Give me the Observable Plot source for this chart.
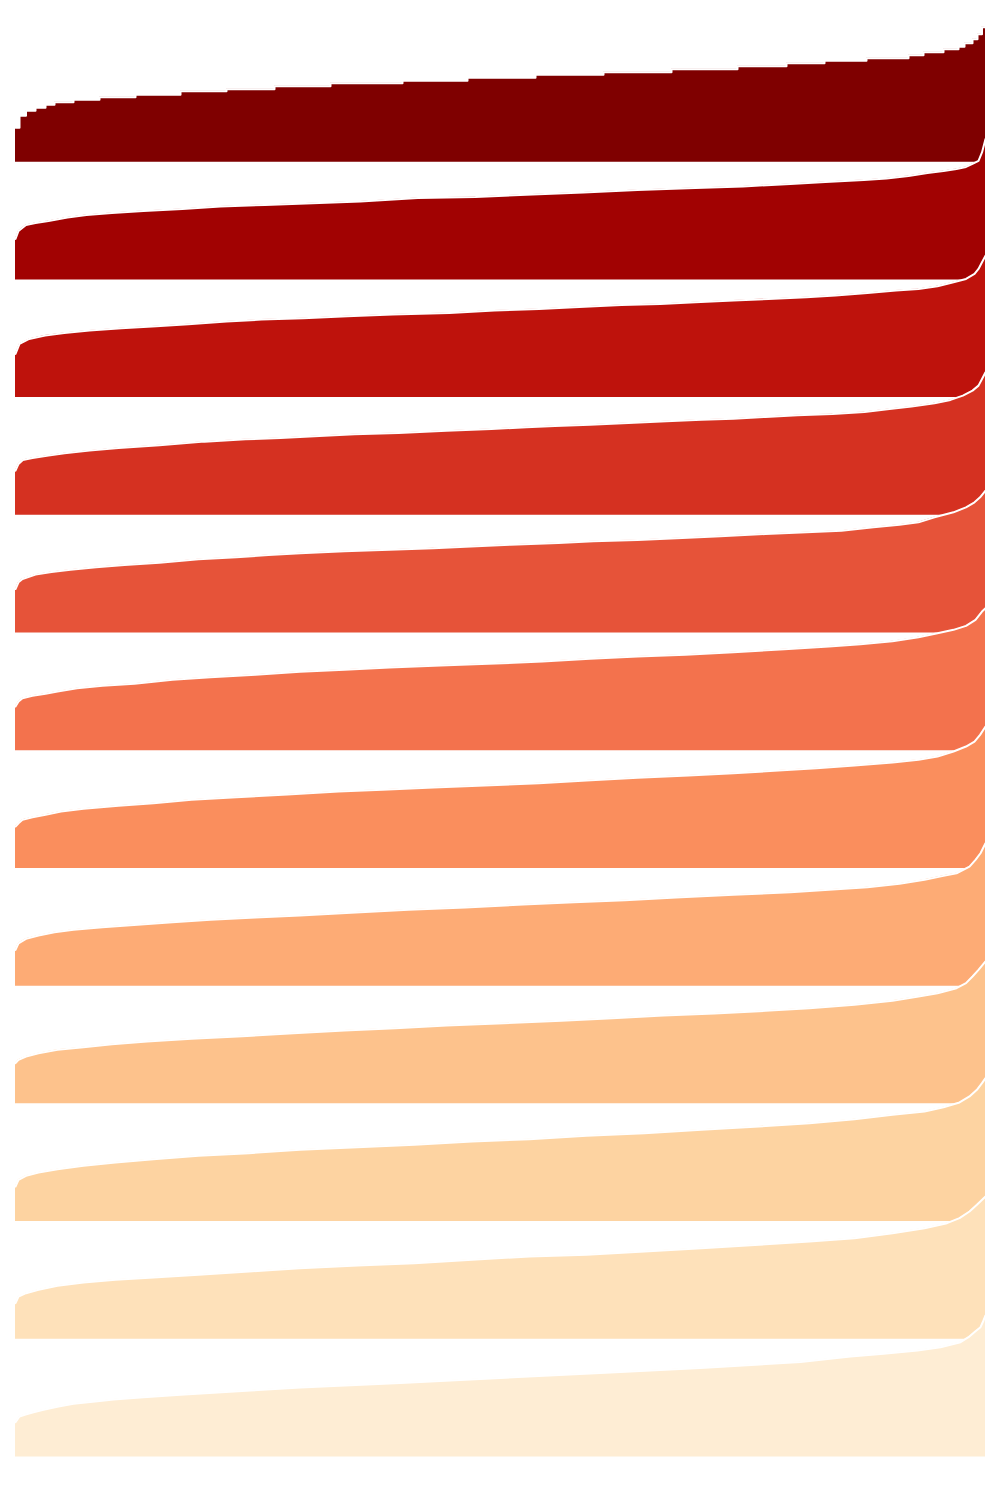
<!DOCTYPE html>
<html>
<head>
<meta charset="utf-8">
<script src="https://cdn.jsdelivr.net/npm/d3@7"></script>
<script src="https://cdn.jsdelivr.net/npm/@observablehq/plot@0.6"></script>
<style>
  html, body { margin: 0; padding: 0; background: #ffffff; }
  #chart svg { display: block; }
</style>
</head>
<body>
<div id="chart"></div>
<script>
// Twelve groups, each a sorted series (rank -> value), top group first.
const bandKeys = [1, 2, 3, 4, 5, 6, 7, 8, 9, 10, 11, 12];

const band01Rank  = [0,4,10.5,20,30,39,58,84,120,165,211,259,315,387,452,520,588,656,722,771,809,851,893,908,928,943,949,957,962,966.5,970];
const band01Value = [34.5,46.5,51.5,54.5,57.5,60,62.5,65,67.5,71,73,76,79,81.5,84.5,87.5,90,93,96,99,101.5,104,107,110,113,115.5,119,123,128,135,140.5];

const band02Rank  = [0,3,10.5,20,33,52,71,96.5,128,167,205,249.5,304,345,402.5,460,517,568,622,680,727.5,775,810,848.5,871,893,912,928,941,950.5,957,963,966.5,970];
const band02Value = [41,49,55,57,59,62.5,65,67,69,71,73.5,75,77,78.5,82,83,85.5,87.5,90,92,93.5,96,98,100,101.5,104,107,109,111,113,116,119,127.5,141];

const band03Rank  = [0,4,13.7,29.6,48.7,74,106,141,173,211,246,288,332,377,434,479,523.6,558.6,606,645,680,718,753,791,820,852,880.5,903,922,938,950.5,959,963,966.5,970];
const band03Value = [43.7,53.7,58.7,62,64.7,67,69.3,71.3,73.3,76,78,79.3,81.3,83,84.7,87,88.7,90.3,92.7,93.7,95.3,97,98.7,100.3,102,104.7,107,108.7,111.3,115.3,118.7,123.7,128.7,135.3,142];

const band04Rank  = [0,3,7.3,17,33,49,74,103,144,189,230,265,304,339,383,431,476,511,539.5,574.5,613,651,686,718,750,782,817,849,874,896,919,935,947.4,957,963,966.5,970];
const band04Value = [44.7,51.4,55.4,57.4,59.7,62,64.7,67.4,70,73.7,76,77.4,79.4,81,82.4,84.7,86.4,88,89.4,90.7,92.4,94,95.7,96.7,98.4,100,101.4,103.4,106.4,108.7,112,115.4,119.7,124.7,129.7,136.4,143];

const band05Rank  = [0,3,7,20,36,55,80.6,109,144,183,221,253,285,329,374,418,450,495,543,578,622,667,705,750,791,826,858,884,903,919,938,950.5,959,964.6,970];
const band05Value = [44,50.7,54,58.4,61,63.4,65.7,68,70.4,73.7,75.7,78,79.7,81.7,83.4,84.7,86.4,88.4,90,91.7,93,95,96.7,99,100.7,102.4,105.7,108.4,110.7,115.7,120.7,125.7,130.7,135.7,142.4];

const band06Rank  = [0,3,7,17,30,42,61.5,87,119,157,195,240,284.5,329,374,425,473,527,574.5,622,670,718,769,813.5,845,877,903,922,938,950.5,960,966.5,970];
const band06Value = [44.2,49.2,52.5,54.9,56.9,59.2,62.5,64.9,66.9,70.9,73.5,75.9,78.9,80.9,83.2,85.2,86.9,89.2,91.9,94.2,95.9,98.5,101.5,104.2,106.5,109.5,113.5,117.5,120.9,124.9,130.9,139.2,142.5];

const band07Rank  = [0,3,7,17,30,45.5,68,103,138,176,221,272,323,367,418,469,523.6,571,622,673,718,763,801,839,877,903,922,938,950.5,959,964.6,970];
const band07Value = [41.9,45.2,48.6,51.2,53.6,56.9,59.6,62.6,65.2,68.6,71.2,73.9,76.9,78.6,80.9,82.9,85.2,87.9,90.6,92.9,95.2,97.9,100.2,102.9,105.9,108.6,111.9,116.9,121.9,126.9,133.6,141.9];

const band08Rank  = [0,3,10.5,23,39,58,87,122,157,195,240,284.5,335.5,393,450,507.6,558.6,609.6,660.6,718,775,813.5,852,884,909,928,941,954,960,965,970];
const band08Value = [36.3,42.9,47.3,50.6,53.9,56.3,58.9,61.3,63.9,66.3,68.6,70.6,73.3,76.3,78.6,81.6,83.9,85.9,88.6,91.3,93.9,96.3,98.9,102.3,106.3,110.3,112.9,119.6,126.3,132.9,142.9];

const band09Rank  = [0,3,10.5,23,42,68,96.5,131.6,176,227,278,329,380,431,488.5,546,597,648,699,750,794,839,877,903,922,941,950.5,957,963,970];
const band09Value = [40.7,44,47.4,50.7,54,56.7,59.7,62.4,65,67.7,70.7,73.4,75.7,78.4,80.7,83,85.7,88.4,90.4,93,95.7,99,103,107.4,110.7,115.7,120.7,127.4,134,142.4];

const band10Rank  = [0,3,10.5,23,42,68,100,138,183,233.6,284.5,342,399,456.6,514,571,629,686,743.5,794,839,877,909,928,944,954,961.4,966.5,970];
const band10Value = [35.1,41.8,45.8,49.1,52.4,55.8,59.1,62.4,65.8,68.4,71.8,74.4,76.8,80.1,82.4,85.8,88.4,91.8,95.1,98.4,102.4,106.8,110.1,114.4,119.1,125.1,131.8,138.4,143.4];

const band11Rank  = [0,3,10.5,23,42,68,100,138,183,233.6,284.5,342,399,456.6,514,571,629,686,743.5,794,839,877,909,931.5,944,954,961.4,970];
const band11Value = [36.1,42.8,46.1,49.5,53.5,56.8,59.5,61.8,64.5,67.8,71.1,73.8,76.1,79.5,82.8,84.5,87.8,91.1,94.5,97.8,101.1,106.1,111.1,116.1,121.1,127.8,134.5,142.8];

const band12Rank  = [0,4,10,18,28,43,58,82,98,128,165,198,235,285,385,485,585,685,785,835,868,902,925,945,953,960,965,968,970];
const band12Value = [34.8,40.5,42.5,44.8,47.2,50.5,53.2,55.8,57.5,59.8,62.2,64.2,66.5,69.5,74,79,84,89,95,100.5,103.2,106.5,109.8,114.8,119.8,125.8,129.8,136.5,141.5];

const ranks  = [band01Rank, band02Rank, band03Rank, band04Rank, band05Rank, band06Rank,
                band07Rank, band08Rank, band09Rank, band10Rank, band11Rank, band12Rank];
const values = [band01Value, band02Value, band03Value, band04Value, band05Value, band06Value,
                band07Value, band08Value, band09Value, band10Value, band11Value, band12Value];

const rows = bandKeys.flatMap((k, i) =>
  ranks[i].map((r, j) => ({band: k, rank: r, value: values[i][j], shade: bandKeys.length + 1 - k}))
);
const stepRows = rows.filter(d => d.band === 1);
const smoothRows = rows.filter(d => d.band !== 1);

const chart = Plot.plot({
  width: 1000,
  height: 1500,
  marginLeft: 15,
  marginRight: 15,
  marginTop: 44,
  marginBottom: 43.5,
  x: {domain: [0, 970], axis: null},
  y: {domain: [0, 117.7], axis: null},
  fy: {domain: bandKeys, padding: 0, round: false, axis: null},
  color: {type: "linear", scheme: "OrRd", domain: [0, 12]},
  marks: [
    Plot.areaY(stepRows, {x: "rank", y: "value", fy: "band", fill: "shade", curve: "step-after"}),
    Plot.lineY(stepRows, {x: "rank", y: "value", fy: "band", stroke: "white", strokeWidth: 2, curve: "step-after"}),
    Plot.areaY(smoothRows, {x: "rank", y: "value", fy: "band", fill: "shade", curve: "linear"}),
    Plot.lineY(smoothRows, {x: "rank", y: "value", fy: "band", z: "band", stroke: "white", strokeWidth: 2, curve: "linear"})
  ]
});
document.getElementById("chart").appendChild(chart);
</script>
</body>
</html>
